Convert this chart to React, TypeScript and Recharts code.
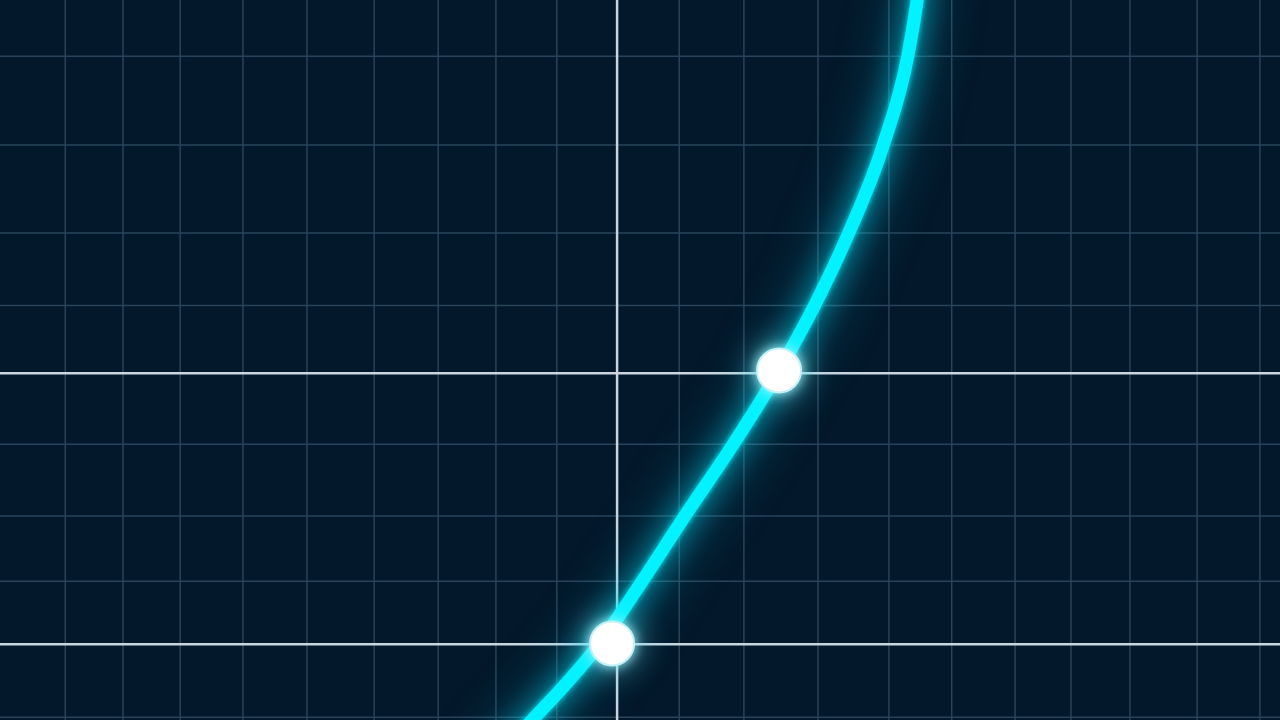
import { ComposedChart, Line, Scatter, XAxis, YAxis, ReferenceLine } from 'recharts'

// grid units: x = 0 on the bright vertical line, y = 0 on the lower bright line
const X_DOMAIN = [-9.83, 10.56]
const Y_DOMAIN = [-1.12, 9.51]

const X_GRID = [-8.79, -7.87, -6.96, -5.96, -4.94, -3.87, -2.85, -1.93, -0.96, 0.99, 2.02, 3.2, 4.33, 5.33, 6.34, 7.23, 8.17, 9.24, 10.24]
const Y_GRID = [-1.08, 0.93, 1.89, 2.95, 5, 6.07, 7.37, 8.68]

const AXIS_X = [0]
const AXIS_Y = [0, 4]

const CURVE_X = [-1.96, -1.35, -0.27, 0.4, 1.07, 1.85, 2.58, 3.14, 3.69, 4.24, 4.63, 4.78, 4.84]
const CURVE_Y = [-1.71, -1.12, 0.02, 0.93, 1.88, 2.95, 4.04, 4.99, 6.07, 7.37, 8.68, 9.51, 9.95]

const POINT_X = [-0.08, 2.58]
const POINT_Y = [0.01, 4.04]

const curve = CURVE_X.map((x, i) => ({ x, y: CURVE_Y[i] }))
const points = POINT_X.map((x, i) => ({ x, y: POINT_Y[i] }))

const glowCss = `
.neon .recharts-line-curve {
  filter: drop-shadow(0 0 3px rgba(0, 243, 255, 0.9)) drop-shadow(0 0 14px rgba(0, 220, 245, 0.75)) drop-shadow(0 0 26px rgba(0, 200, 235, 0.45));
}
.neon .dot-core {
  filter: drop-shadow(0 0 6px rgba(170, 250, 255, 0.95)) drop-shadow(0 0 16px rgba(120, 240, 255, 0.6));
}
`

const Dot = (props: any) => {
  const { cx, cy } = props
  if (cx == null || cy == null) return null
  return <circle className="dot-core" cx={cx} cy={cy} r={22} fill="#ffffff" stroke="#c4f1f5" strokeWidth={2} />
}

export default function App() {
  return (
    <div className="neon" style={{ position: 'absolute', left: 0, top: 0, width: 1280, height: 720, background: '#03182a', overflow: 'hidden' }}>
      <style>{glowCss}</style>
      <ComposedChart width={1280} height={720} margin={{ top: 0, right: 0, bottom: 0, left: 0 }}>
        <XAxis dataKey="x" type="number" domain={X_DOMAIN} allowDataOverflow hide />
        <YAxis dataKey="y" type="number" domain={Y_DOMAIN} allowDataOverflow hide />
        {X_GRID.map(v => (
          <ReferenceLine key={'gx' + v} x={v} stroke="#29435a" strokeWidth={1.5} />
        ))}
        {Y_GRID.map(v => (
          <ReferenceLine key={'gy' + v} y={v} stroke="#29435a" strokeWidth={1.5} />
        ))}
        {AXIS_X.map(v => (
          <ReferenceLine key={'ax' + v} x={v} stroke="#c9d6e0" strokeWidth={2.5} />
        ))}
        {AXIS_Y.map(v => (
          <ReferenceLine key={'ay' + v} y={v} stroke="#c9d6e0" strokeWidth={2.5} />
        ))}
        <Line data={curve} dataKey="y" type="monotone" stroke="#00f3ff" strokeWidth={13} strokeLinecap="round"
          dot={false} activeDot={false} isAnimationActive={false} />
        <Scatter data={points} dataKey="y" shape={Dot} isAnimationActive={false} />
      </ComposedChart>
    </div>
  )
}
